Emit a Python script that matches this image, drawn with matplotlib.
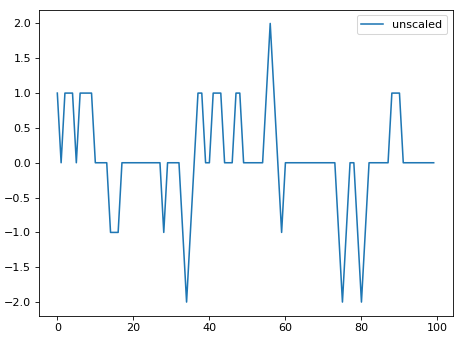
import matplotlib

matplotlib.use("Agg")
import matplotlib.pyplot as plt
import numpy as np

# integer-valued series, one value per index 0..99
unscaled = [
    1, 0, 1, 1, 1, 0, 1, 1, 1, 1,
    0, 0, 0, 0, -1, -1, -1, 0, 0, 0,
    0, 0, 0, 0, 0, 0, 0, 0, -1, 0,
    0, 0, 0, -1, -2, -1, 0, 1, 1, 0,
    0, 1, 1, 1, 0, 0, 0, 1, 1, 0,
    0, 0, 0, 0, 0, 1, 2, 1, 0, -1,
    0, 0, 0, 0, 0, 0, 0, 0, 0, 0,
    0, 0, 0, 0, -1, -2, -1, 0, 0, -1,
    -2, -1, 0, 0, 0, 0, 0, 0, 1, 1,
    1, 0, 0, 0, 0, 0, 0, 0, 0, 0,
]
x = np.arange(len(unscaled))

# reference looks like a default figure scaled down, so render at 75 dpi
DPI = 75
W, H = 474, 353
plt.rcParams["font.size"] = 10.7
fig = plt.figure(figsize=(W / DPI, H / DPI), dpi=DPI)
ax = fig.add_axes([38.5 / W, 1 - 316 / H, (452.5 - 38.5) / W, (316 - 9.5) / H])
ax.plot(x, unscaled, label="unscaled")
ax.legend(loc="upper right")
fig.savefig("out.png", dpi=DPI)
plt.close(fig)
